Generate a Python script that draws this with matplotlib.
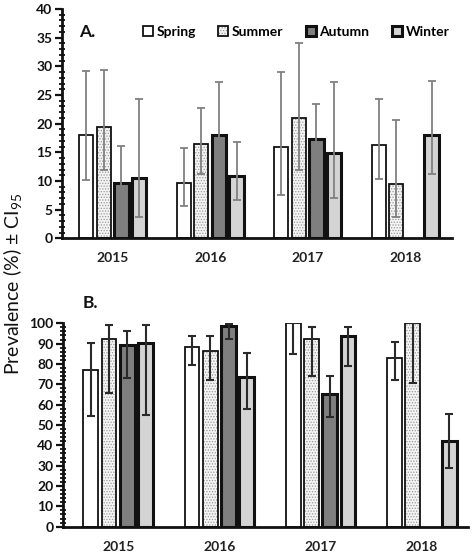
import numpy as np
import matplotlib
matplotlib.use("Agg")
import matplotlib.pyplot as plt
from matplotlib.patches import Patch
from matplotlib.legend_handler import HandlerTuple
from matplotlib.ticker import MultipleLocator

plt.rcParams['font.family'] = ['Lato', 'DejaVu Sans']
plt.rcParams['mathtext.fontset'] = 'custom'
plt.rcParams['mathtext.rm'] = 'Lato'
plt.rcParams['hatch.color'] = '#9a9a9a'
plt.rcParams['hatch.linewidth'] = 0.6

years = ['2015', '2016', '2017', '2018']
seasons = ['Spring', 'Summer', 'Autumn', 'Winter']

# A. prevalence, lower / upper CI95 (rows = season, cols = year)
a_val = [[18.0, 9.7, 16.0, 16.3],
         [19.4, 16.4, 21.0, 9.5],
         [9.6, 18.1, 17.3, np.nan],
         [10.5, 10.9, 14.8, 18.1]]
a_lo = [[10.2, 5.6, 7.6, 10.3],
        [11.9, 11.3, 12.0, 3.7],
        [5.2, 11.5, 12.1, np.nan],
        [3.8, 6.7, 7.1, 11.3]]
a_hi = [[29.2, 15.8, 29.0, 24.3],
        [29.4, 22.8, 34.0, 20.6],
        [16.1, 27.2, 23.5, np.nan],
        [24.3, 16.8, 27.3, 27.5]]

# B.
b_val = [[77.0, 88.2, 100.0, 83.0],
         [92.1, 86.2, 92.1, 100.0],
         [89.3, 98.7, 65.1, np.nan],
         [90.2, 73.8, 93.8, 42.1]]
b_lo = [[54.4, 79.7, 84.8, 72.0],
        [65.6, 72.1, 74.1, 70.5],
        [73.3, 92.3, 53.9, np.nan],
        [54.9, 57.9, 79.2, 29.0]]
b_hi = [[90.2, 93.9, 100.0, 90.7],
        [99.3, 93.9, 98.4, 100.0],
        [96.4, 99.8, 74.1, np.nan],
        [99.3, 85.2, 98.4, 55.4]]

faces = ['white', '#f4f4f4', '#7f7f7f', '#d4d4d4']
edge_lw = [1.3, 1.3, 2.2, 2.2]
offsets = [-0.27, -0.09, 0.09, 0.27]
width = 0.145

fig = plt.figure(figsize=(4.74, 5.53), dpi=100)
ax1 = fig.add_axes([0.1308, 0.5691, 0.8228, 0.4146])
ax2 = fig.add_axes([0.1329, 0.0476, 0.8544, 0.3678])


def draw(ax, val, lo, hi, ecol, elw):
    x = np.arange(len(years))
    for i in range(4):
        v = np.array(val[i])
        xs = x + offsets[i]
        if i == 1:
            ax.bar(xs, v, width, color=faces[i], hatch='......', zorder=2)
            ax.bar(xs, v, width, fill=False, edgecolor='#111111',
                   linewidth=edge_lw[i], zorder=2)
        else:
            ax.bar(xs, v, width, color=faces[i], edgecolor='#111111',
                   linewidth=edge_lw[i], zorder=2)
        err = [v - np.array(lo[i]), np.array(hi[i]) - v]
        ax.errorbar(xs, v, yerr=err, fmt='none', ecolor=ecol,
                    elinewidth=elw, capsize=3, capthick=elw, zorder=3)
    ax.set_xticks(x)
    ax.set_xticklabels(years, fontweight='bold', fontsize=10, color='#222222')
    for s in ['top', 'right']:
        ax.spines[s].set_visible(False)
    for s in ['left', 'bottom']:
        ax.spines[s].set_linewidth(2)
        ax.spines[s].set_color('#111111')
    ax.tick_params(axis='x', length=0, pad=10)
    ax.tick_params(axis='y', which='major', direction='out', length=5,
                   width=1.6, labelsize=10, pad=2, colors='#111111')
    ax.tick_params(axis='y', which='minor', direction='inout', length=5,
                   width=1.3, colors='#111111')


draw(ax1, a_val, a_lo, a_hi, '#808080', 1.3)
ax1.set_xlim(-0.52, 3.48)
ax1.set_ylim(0, 40)
ax1.yaxis.set_major_locator(MultipleLocator(5))
ax1.yaxis.set_minor_locator(MultipleLocator(1))
for t in ax1.get_yticklabels():
    t.set_fontweight('bold')
ax1.text(0.045, 0.90, 'A.', transform=ax1.transAxes, fontsize=12.5,
         fontweight='bold', va='center', color='#111111')

draw(ax2, b_val, b_lo, b_hi, '#2a2a2a', 1.5)
ax2.set_xlim(-0.545, 3.455)
ax2.set_ylim(0, 100)
ax2.yaxis.set_major_locator(MultipleLocator(10))
ax2.yaxis.set_minor_locator(MultipleLocator(2))
for t in ax2.get_yticklabels():
    t.set_fontweight('bold')
ax2.text(0.048, 1.10, 'B.', transform=ax2.transAxes, fontsize=12.5,
         fontweight='bold', va='center', color='#111111')

handles = []
for i in range(4):
    if i == 1:
        h = (Patch(facecolor=faces[i], hatch='......'),
             Patch(fill=False, edgecolor='#111111', linewidth=edge_lw[i]))
    else:
        h = Patch(facecolor=faces[i], edgecolor='#111111', linewidth=edge_lw[i])
    handles.append(h)
leg = ax1.legend(handles, seasons, loc='center', bbox_to_anchor=(0.6, 0.9),
                 ncol=4, frameon=False, handlelength=0.75, handleheight=0.75,
                 handletextpad=0.25, columnspacing=1.6,
                 prop={'weight': 'bold', 'size': 10},
                 handler_map={tuple: HandlerTuple(ndivide=1, pad=0)})

fig.text(0.028, 0.487, 'Prevalence (%) ± CI$_{95}$', rotation=90,
         ha='center', va='center', fontsize=14, color='#111111')

fig.savefig('out.png', dpi=100)
